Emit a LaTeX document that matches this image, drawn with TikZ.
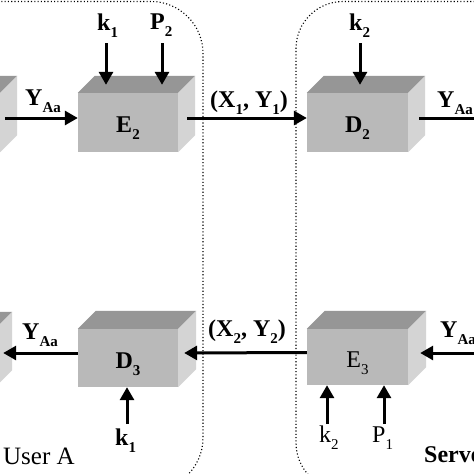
\documentclass[tikz,border=0pt]{standalone}
\usepackage{fontspec}
\setmainfont{Liberation Serif}
\usetikzlibrary{arrows.meta}
\newcommand{\lsub}[1]{\raisebox{-0.3em}{\fontsize{15}{15}\selectfont #1}}
\newcommand{\cubefaces}[2]{%
  \fill[topg] (#1.north west) -- ++(#2,-#2) -- ([shift={(#2,-#2)}]#1.north east) -- (#1.north east) -- cycle;
  \fill[sideg] (#1.north east) -- ++(#2,-#2) -- ([shift={(#2,-#2)}]#1.south east) -- (#1.south east) -- cycle;}
\definecolor{frontg}{RGB}{185,185,185}
\definecolor{topg}{RGB}{150,150,150}
\definecolor{sideg}{RGB}{212,212,212}
\begin{document}
\begin{tikzpicture}[x=1pt,y=-1pt,
  front/.style={fill=frontg, minimum width=100pt, minimum height=59pt, inner sep=0pt,
    text height=20pt, text depth=0pt, font=\fontsize{24}{28}\selectfont\bfseries},
  arr/.style={line width=3pt, -{Triangle[length=13pt,width=14pt]}},
  lbl/.style={inner sep=0pt, anchor=base west, font=\fontsize{24}{28}\selectfont\bfseries},
  lblr/.style={inner sep=0pt, anchor=base west, font=\fontsize{24}{28}\selectfont},
  region/.style={line width=1.1pt, dash pattern=on 1.1pt off 2.2pt},
]
\useasboundingbox (0,0) rectangle (474,474);
\clip (0,0) rectangle (474,474);
\fill[white] (0,0) rectangle (474,474);

% regions
\draw[region] (-200,1.5) [rounded corners=52pt] -- (203,1.5) -- (203,490) -- (-200,490);
\draw[region] (600,1.5) [rounded corners=47pt] -- (296,1.5) -- (296,490) -- (600,490);

% boxes
\node[front] (A1) at (-50,122.5) {};
\node[front] (E2) at (128,122.5) {E\lsub{2}};
\node[front, minimum width=101pt] (D2) at (357.5,122.5) {D\lsub{2}};
\node[front, minimum height=58pt] (A2) at (-55,358) {};
\node[front, minimum height=58pt] (D3) at (128,358) {D\lsub{3}};
\node[front, minimum width=101pt, minimum height=56pt, font=\fontsize{24}{28}\selectfont] (E3) at (357.5,357) {E\lsub{3}};
\cubefaces{A1}{17}
\cubefaces{E2}{17}
\cubefaces{D2}{17}
\cubefaces{A2}{17}
\cubefaces{D3}{18}
\cubefaces{E3}{18}

% horizontal connectors
\coordinate (outR) at (520,118);
\coordinate (inR) at (520,353);
\draw[arr] ([xshift=5pt,yshift=4.5pt]A1.east) -- ([yshift=4.5pt]E2.west);
\draw[arr] ([xshift=9pt,yshift=4.5pt]E2.east) -- ([yshift=4.5pt]D2.west);
\draw[arr] ([xshift=11pt,yshift=4.5pt]D2.east) -- (outR);
\draw[arr] ([yshift=5pt]D3.west) -- ([xshift=8pt,yshift=5pt]A2.east);
\draw[arr] ([yshift=4.5pt]E3.west) -- ([xshift=6pt,yshift=5pt]D3.east);
\draw[arr] (inR) -- ([xshift=12pt,yshift=4pt]E3.east);

% vertical inputs
\coordinate (k1a) at (106,43);
\coordinate (p2a) at (162,43);
\coordinate (k2a) at (360,43);
\coordinate (k1b) at (127,424);
\coordinate (k2b) at (327,424);
\coordinate (p1b) at (384,424);
\draw[arr] (k1a) -- ([xshift=-22pt,yshift=8pt]E2.north);
\draw[arr] (p2a) -- ([xshift=34pt,yshift=8pt]E2.north);
\draw[arr] (k2a) -- ([xshift=2.5pt,yshift=8pt]D2.north);
\draw[arr] (k1b) -- ([xshift=-1pt]D3.south);
\draw[arr] (k2b) -- ([xshift=-30.5pt]E3.south);
\draw[arr] (p1b) -- ([xshift=26.5pt]E3.south);

% labels
\node[lbl] (lk1t) at (97,30) {k\lsub{1}};
\node[lbl] (lp2t) at (150,29) {P\lsub{2}};
\node[lbl] (lk2t) at (349,30) {k\lsub{2}};
\node[lbl] (ly1) at (25,105) {Y\lsub{Aa}};
\node[lbl] (lx1) at (210,107) {(X\lsub{1}, Y\lsub{1})};
\node[lbl] (ly2) at (437,107) {Y\lsub{Aa}};
\node[lbl] (ly3) at (22,339) {Y\lsub{Aa}};
\node[lbl] (lx2) at (208,336) {(X\lsub{2}, Y\lsub{2})};
\node[lbl] (ly4) at (440,337) {Y\lsub{Aa}};
\node[lbl] (lk1b) at (115,445) {k\lsub{1}};
\node[lblr] (lk2b) at (319,442) {k\lsub{2}};
\node[lblr] (lp1b) at (372,442) {P\lsub{1}};
\node[lblr, font=\fontsize{25}{28}\selectfont] (usera) at (3,464) {User A};
\node[lbl] (server) at (424,462) {Server};
\end{tikzpicture}
\end{document}
